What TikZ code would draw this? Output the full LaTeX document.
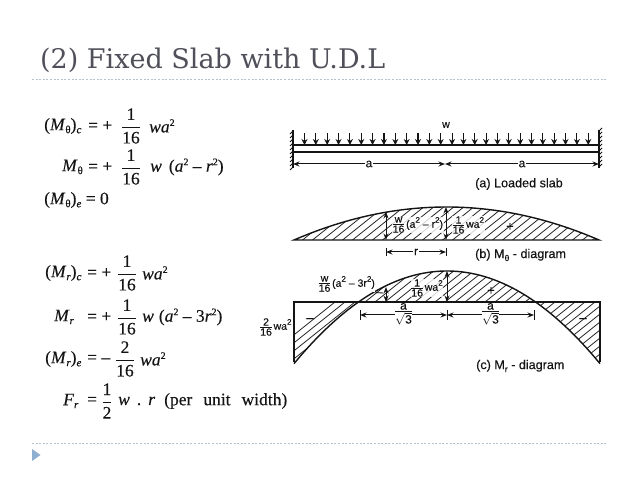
\documentclass[tikz,border=0pt]{standalone}
\usepackage{fontspec}
\setmainfont{Liberation Serif}[FakeBold=0.25]
\newfontfamily\dsans{Liberation Sans}[FakeBold=0.25]
\newfontfamily\titlefont{DejaVu Serif}
\usetikzlibrary{arrows.meta}
\definecolor{ink}{HTML}{141414}
\definecolor{titlegrey}{HTML}{50505A}
\definecolor{rulecol}{HTML}{B4C2CE}
\definecolor{tricol}{HTML}{8FAFD0}
\newcommand{\fr}[2]{$\nulldelimiterspace=0pt\displaystyle\frac{\mbox{#1}}{\mbox{#2}}$}
\newcommand{\sq}[1]{\raisebox{6.5pt}{\fontsize{10}{10}\selectfont #1}}
\newcommand{\sqs}[1]{\raisebox{5pt}{\fontsize{8}{8}\selectfont #1}}
\newcommand{\sub}[1]{\raisebox{-3pt}{\fontsize{11}{11}\selectfont #1}}
\newcommand{\subc}[1]{\raisebox{-3pt}{\fontsize{8.5}{9}\selectfont #1}}
\newcommand{\smf}[2]{$\vcenter{\offinterlineskip\halign{\hfil##\hfil\cr #1\cr\noalign{\kern1pt\hrule height .7pt\kern1pt}#2\cr}}$}
\tikzset{
  eq/.style={inner sep=0pt,anchor=west,text=ink,font=\fontsize{17.5}{18}\selectfont},
  eqc/.style={inner sep=0pt,anchor=center,text=ink,font=\fontsize{17.5}{18}\selectfont},
  captext/.style={inner sep=0pt,anchor=west,text=ink,font=\dsans\fontsize{12.6}{13}\selectfont},
  lab/.style={inner sep=0pt,text=ink,font=\dsans\fontsize{10.5}{11}\selectfont},
  signlab/.style={inner sep=0pt,text=ink,font=\dsans\fontsize{13}{13}\selectfont},
  slabline/.style={draw=ink,line width=1.1pt},
  outline/.style={draw=ink,line width=1.4pt},
  hatchline/.style={draw=ink,line width=.75pt},
  dimline/.style={draw=ink,line width=1pt,{Stealth[length=6.5pt,width=5pt]}-{Stealth[length=6.5pt,width=5pt]}},
  loadarrow/.style={draw=ink,line width=1.1pt,-{Stealth[length=6pt,width=6pt]}},
  tickline/.style={draw=ink,line width=.9pt},
  rulel/.style={draw=rulecol,line width=.7pt,dash pattern=on 2pt off 1.6pt},
  gaplabel/.style={fill=white,inner sep=1pt,text=ink,font=\dsans\fontsize{12}{12}\selectfont},
  gapfrac/.style={fill=white,inner sep=0pt,text=ink,font=\dsans\fontsize{12}{12}\selectfont},
  inlabel/.style={lab,fill=white,fill opacity=.8,text opacity=1,inner sep=.5pt}
}
\begin{document}
\begin{tikzpicture}[x=1pt,y=-1pt]
\useasboundingbox[fill=white] (0,0) rectangle (638,478);
% title and rules
\node[inner sep=0pt,anchor=west,text=titlegrey,font=\titlefont\fontsize{27}{28}\selectfont] (title) at (40,60) {(2) Fixed Slab with U.D.L};
\coordinate (r1a) at (32,79); \coordinate (r1b) at (608,79);
\coordinate (r2a) at (32,443); \coordinate (r2b) at (608,443);
\draw[rulel] (r1a) -- (r1b);
\draw[rulel] (r2a) -- (r2b);
\fill[tricol] (32,449) -- (40.5,455) -- (32,461) -- cycle;
% equations upper
\node[eq] (e1) at (44,126) {(\textit{M}\sub{θ})\sub{\textit{c}}};
\node[eq] (e1b) at (88,126) {= +};
\node[eqc] (e1f) at (131,126) {\fr{1}{16}};
\node[eq] (e1w) at (149,126) {\textit{wa}\sq{2}};
\node[eq] (e2) at (62,167) {\textit{M}\sub{θ}};
\node[eq] (e2b) at (88,167) {= +};
\node[eqc] (e2f) at (131,167) {\fr{1}{16}};
\node[eq] (e2w) at (150,167) {\textit{w}\hspace{7pt}(\textit{a}\sq{2} – \textit{r}\sq{2})};
\node[eq] (e3) at (44,200) {(\textit{M}\sub{θ})\sub{\textit{e}} = 0};
% equations lower
\node[eq] (e4) at (45,273) {(\textit{M}\sub{\textit{r}})\sub{\textit{c}}};
\node[eq] (e4b) at (87,273) {= +};
\node[eqc] (e4f) at (127,273) {\fr{1}{16}};
\node[eq] (e4w) at (142,273) {\textit{wa}\sq{2}};
\node[eq] (e5) at (54,317) {\textit{M}\sub{\textit{r}}};
\node[eq] (e5b) at (87,317) {= +};
\node[eqc] (e5f) at (127,317) {\fr{1}{16}};
\node[eq] (e5w) at (142,317) {\textit{w}\hspace{5pt}(\textit{a}\sq{2} – 3\textit{r}\sq{2})};
\node[eq] (e6) at (45,359) {(\textit{M}\sub{\textit{r}})\sub{\textit{e}}};
\node[eq] (e6b) at (87,359) {= –};
\node[eqc] (e6f) at (125,359) {\fr{2}{16}};
\node[eq] (e6w) at (140,359) {\textit{wa}\sq{2}};
\node[eq] (e7) at (63,401) {\textit{F}\sub{\textit{r}}};
\node[eq] (e7b) at (87,401) {=};
\node[eqc] (e7f) at (107,401) {\fr{1}{2}};
\node[eq] (e7w) at (118,401) {\textit{w}\hspace{7pt}.\hspace{7pt}\textit{r}};
\node[eq] (e7t) at (164,401) {(per\hspace{11pt}unit\hspace{11pt}width)};
% (a) loaded slab
\coordinate (sTL) at (293,145); \coordinate (sTR) at (599,145);
\coordinate (sBL) at (293,152); \coordinate (sBR) at (599,152);
\coordinate (wL1) at (293,130); \coordinate (wL2) at (293,168);
\coordinate (wR1) at (599,130); \coordinate (wR2) at (599,168);
\draw[slabline] (sTL) -- (sTR);
\draw[slabline] (sBL) -- (sBR);
\draw[slabline] (wL1) -- (wL2);
\draw[slabline] (wR1) -- (wR2);
\foreach \y in {131,135,...,167}{
  \draw[tickline] (293,\y) -- (290,\y+3);
  \draw[tickline] (599,\y) -- (602,\y-3);
}
\foreach \i in {0,...,25}{
  \coordinate (la\i) at ({304.5+\i*11.35},133);
  \coordinate (lb\i) at ({304.5+\i*11.35},145);
  \draw[loadarrow] (la\i) -- (lb\i);
}
\node[lab] (w) at (446,125) {w};
\coordinate (dA) at (293,164); \coordinate (dC) at (445,164); \coordinate (dB) at (599,164);
\draw[dimline] (dA) -- node[gaplabel] (aL) {a} (dC);
\draw[dimline] (dC) -- node[gaplabel,pos=.5] (aR) {a} (dB);
\node[captext] (capA) at (475,184) {(a) Loaded slab};
% (b) M-theta
\begin{scope}
\clip plot[domain=294:599,samples=60] (\x,{240-33*(1-((\x-446.5)/152.5)^2)}) -- cycle;
\foreach \c in {280,290,...,610}{
  \draw[hatchline] (\c,242) -- (\c+50,202);
}
\end{scope}
\draw[outline] plot[domain=294:599,samples=60] (\x,{240-33*(1-((\x-446.5)/152.5)^2)}) -- cycle;
\coordinate (b1t) at (386,212); \coordinate (b1b) at (386,240);
\coordinate (b2t) at (446,207); \coordinate (b2b) at (446,240);
\draw[dimline] (b1t) -- (b1b);
\draw[dimline] (b2t) -- (b2b);
\node[inlabel,anchor=west] (bl1) at (392,225) {\smf{w}{16}\,(a\sqs{2} – r\sqs{2})};
\node[inlabel,anchor=west] (bl2) at (452,225) {\smf{1}{16}\,wa\sqs{2}};
\node[signlab] (bplus) at (510,227) {+};
\coordinate (rA) at (386,252); \coordinate (rB) at (446,252);
\draw[dimline] (rA) -- node[gaplabel] (rl) {r} (rB);
\draw[ink,line width=1pt] (386,248) -- (386,256) (446,248) -- (446,256);
\node[captext] (capB) at (475,255) {(b) M\subc{θ} - diagram};
% (c) M-r
\begin{scope}
\clip (294,302) -- plot[domain=294:600,samples=70] (\x,{271+31*((\x-447)/88.5)^2}) -- (600,302) -- cycle;
\foreach \c in {250,260,...,640}{
  \draw[hatchline] (\c,370) -- (\c+125,270);
}
\end{scope}
\draw[outline] plot[domain=294:600,samples=70] (\x,{271+31*((\x-447)/88.5)^2});
\coordinate (bl) at (294,302); \coordinate (br) at (600,302);
\coordinate (ll) at (294,362); \coordinate (lr) at (600,362);
\draw[outline] (ll) -- (bl) -- (br) -- (lr);
\coordinate (c1t) at (386,287); \coordinate (c1b) at (386,302);
\coordinate (c2t) at (447,271); \coordinate (c2b) at (447,302);
\draw[dimline] (c1t) -- (c1b);
\draw[dimline] (c2t) -- (c2b);
\coordinate (da) at (360,315); \coordinate (db) at (447,315); \coordinate (dc) at (534,315);
\draw[dimline] (da) -- node[gapfrac,yshift=1pt] (s1) {\smf{a}{$\sqrt{\mbox{3}}$}} (db);
\draw[dimline] (db) -- node[gapfrac,yshift=1pt] (s2) {\smf{a}{$\sqrt{\mbox{3}}$}} (dc);
\draw[ink,line width=1pt] (360,310) -- (360,320) (447,310) -- (447,320) (534,310) -- (534,320);
\node[lab,anchor=west,fill=white,inner sep=.5pt] (cl1) at (318,284) {\smf{w}{16}\,(a\sqs{2} – 3r\sqs{2})};
\coordinate (lead) at (383,293);
\draw[ink,line width=.9pt] (cl1.south east) -- (lead);
\node[inlabel,anchor=center] (cl2) at (427,288) {\smf{1}{16}\,wa\sqs{2}};
\node[signlab] (cplus) at (491,291) {+};
\node[signlab] (cm1) at (310,320) {–};
\node[signlab] (cm2) at (583,320) {–};
\node[lab,anchor=west] (cl3) at (260,327) {\smf{2}{16}\,wa\sqs{2}};
\node[captext] (capC) at (476,366) {(c) M\subc{r} - diagram};
\end{tikzpicture}
\end{document}
